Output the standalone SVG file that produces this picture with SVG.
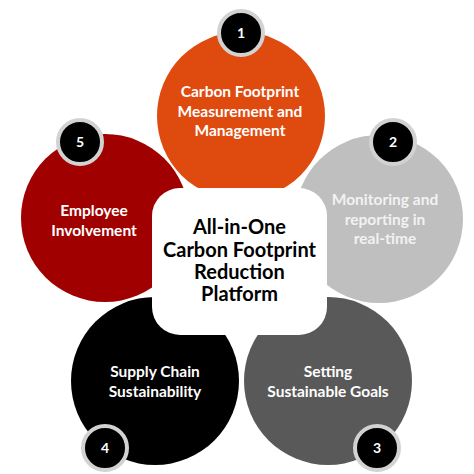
<svg xmlns="http://www.w3.org/2000/svg" width="474" height="474" viewBox="0 0 474 474">
<defs>
<style>
.t{font-family:Lato,"Liberation Sans",sans-serif;font-weight:bold;text-anchor:middle}
.ct{font-size:15.5px;fill:#fff}
.lt{fill:#f2f2f2}
.mt{font-size:20px;fill:#000}
.bring{fill:#000;stroke:#d2d2d2;stroke-width:4}
.bnum{font-size:14px;fill:#fff}
</style>
</defs>
<rect width="474" height="474" fill="#fff"/>
<g id="node1">
<circle cx="241" cy="116" r="84" fill="#df4a0e"/>
<text class="t ct" x="240" y="97">Carbon Footprint</text>
<text class="t ct" x="240" y="116.5">Measurement and</text>
<text class="t ct" x="240" y="136">Management</text>
</g>
<g id="node2">
<circle cx="379" cy="219" r="84" fill="#bfbfbf"/>
<text class="t ct lt" x="385" y="205">Monitoring and</text>
<text class="t ct lt" x="385" y="224.5">reporting in</text>
<text class="t ct lt" x="385" y="244">real-time</text>
</g>
<g id="node3">
<circle cx="328" cy="381" r="84" fill="#595959"/>
<text class="t ct" x="328" y="377">Setting</text>
<text class="t ct" x="328" y="397">Sustainable Goals</text>
</g>
<g id="node4">
<circle cx="155" cy="381" r="84" fill="#000"/>
<text class="t ct" x="155" y="377">Supply Chain</text>
<text class="t ct" x="155" y="397">Sustainability</text>
</g>
<g id="node5">
<circle cx="105" cy="218" r="84" fill="#a00000"/>
<text class="t ct" x="94" y="216">Employee</text>
<text class="t ct" x="94" y="235.5">Involvement</text>
</g>
<g id="center">
<rect x="152" y="188" width="175" height="147" rx="28" fill="#fff"/>
<text class="t mt" x="239.5" y="233.5">All-in-One</text>
<text class="t mt" x="239.5" y="256.5">Carbon Footprint</text>
<text class="t mt" x="239.5" y="278.5">Reduction</text>
<text class="t mt" x="239.5" y="301">Platform</text>
</g>
<g id="badge1"><circle class="bring" cx="241" cy="33" r="22"/><text class="t bnum" x="241" y="38">1</text></g>
<g id="badge2"><circle class="bring" cx="393" cy="142" r="22"/><text class="t bnum" x="393" y="147">2</text></g>
<g id="badge3"><circle class="bring" cx="377" cy="448" r="22"/><text class="t bnum" x="377" y="453">3</text></g>
<g id="badge4"><circle class="bring" cx="105" cy="448" r="22"/><text class="t bnum" x="105" y="453">4</text></g>
<g id="badge5"><circle class="bring" cx="80" cy="142" r="22"/><text class="t bnum" x="80" y="147">5</text></g>
<g id="connectors"></g>
</svg>
